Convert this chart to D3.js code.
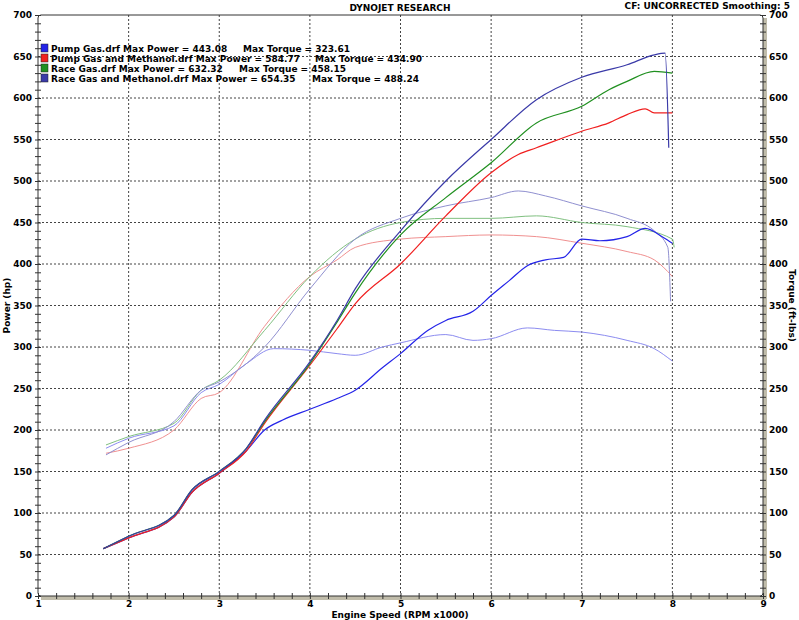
<!DOCTYPE html>
<html><head><meta charset="utf-8">
<script src="https://cdn.jsdelivr.net/npm/d3@7"></script>
<style>body{margin:0;background:#fff}text{font-family:"DejaVu Sans",Verdana,sans-serif;font-weight:bold;font-size:9px}</style>
</head><body><script>
// [rpm x1000, value]
const pumpPower = [[1.72,57],[2,70],[2.5,95],[2.7,125],[3,148],[3.3,175],[3.5,200],[3.7,212],[4,225],[4.3,238],[4.5,248],[4.8,275],[5,292],[5.3,320],[5.5,332],[5.8,343],[6,362],[6.2,380],[6.4,398],[6.6,405],[6.8,408],[7,430],[7.2,428],[7.5,433],[7.7,443],[7.9,432],[8,425]];
const pumpTorque = [[1.75,178],[2,190],[2.5,205],[2.8,245],[3,255],[3.3,280],[3.6,298],[4,296],[4.3,292],[4.5,290],[4.8,300],[5,305],[5.5,315],[5.8,308],[6,310],[6.4,323],[6.7,320],[7,318],[7.5,308],[7.8,298],[8,283]];
const methPower = [[1.72,57],[2,70],[2.5,95],[2.7,125],[3,148],[3.3,175],[3.5,208],[4,278],[4.3,322],[4.5,352],[5,400],[5.5,458],[6,510],[6.3,532],[6.5,540],[7,560],[7.3,570],[7.5,580],[7.7,587],[7.8,582],[8,582]];
const methTorque = [[1.75,172],[2,178],[2.5,200],[2.8,238],[3,245],[3.5,325],[4,385],[4.3,405],[4.5,420],[5,430],[5.5,433],[6,435],[6.5,433],[7,425],[7.5,415],[7.8,405],[8,385]];
const racePower = [[1.72,57],[2,72],[2.5,97],[2.7,128],[3,150],[3.3,178],[3.5,210],[4,280],[4.3,330],[4.5,365],[5,435],[5.5,480],[6,522],[6.5,570],[7,590],[7.3,610],[7.5,620],[7.8,632],[8,630]];
const raceTorque = [[1.75,182],[2,192],[2.5,208],[2.8,248],[3,260],[3.5,320],[4,385],[4.5,430],[5,450],[5.5,455],[6,455],[6.5,458],[7,450],[7.5,445],[8,430],[8.02,420]];
const rmPower = [[1.72,57],[2,72],[2.5,97],[2.7,128],[3,150],[3.3,178],[3.5,212],[4,282],[4.3,332],[4.5,370],[5,440],[5.5,500],[6,550],[6.5,598],[7,625],[7.5,640],[7.8,652],[7.92,654],[7.96,540]];
const rmTorque = [[1.75,170],[2,185],[2.5,210],[2.8,248],[3,258],[3.5,300],[4,370],[4.5,430],[5,455],[5.5,470],[6,480],[6.3,488],[6.6,482],[7,470],[7.5,455],[7.8,440],[7.95,420],[7.98,355]];
const legendLabels = ["Pump Gas.drf Max Power = 443.08", "Pump Gas and Methanol.drf Max Power = 584.77", "Race Gas.drf Max Power = 632.32", "Race Gas and Methanol.drf Max Power = 654.35"];
const torqueLabels = ["Max Torque = 323.61", "Max Torque = 434.90", "Max Torque = 458.15", "Max Torque = 488.24"];
const colors = ["#2424e8", "#f02020", "#209020", "#3a3aa8"];
const lightColors = ["#8c8cf0", "#f09090", "#80c080", "#9090d0"];

const W = 799, H = 620, L = 38, R = 763, T = 15, B = 596;
const svg = d3.select("body").append("svg").attr("width", W).attr("height", H);
const x = d3.scaleLinear([1, 9], [L, R]);
const y = d3.scaleLinear([0, 700], [B, T]);

// shadow
svg.append("rect").attr("x", L + 3).attr("y", B).attr("width", R - L).attr("height", 4).attr("fill", "#c0bcaa");
svg.append("rect").attr("x", R).attr("y", T + 3).attr("width", 4).attr("height", B - T).attr("fill", "#c0bcaa");

const grid = svg.append("g").attr("stroke", "#444").attr("stroke-dasharray", "2,2");
d3.range(2, 9).forEach(v => grid.append("line").attr("x1", x(v)).attr("x2", x(v)).attr("y1", T).attr("y2", B));
d3.range(50, 700, 50).forEach(v => grid.append("line").attr("x1", L).attr("x2", R).attr("y1", y(v)).attr("y2", y(v)));

svg.append("rect").attr("x", L).attr("y", T).attr("width", R - L).attr("height", B - T).attr("fill", "none").attr("stroke", "#333").attr("rx", 3);

const ax = svg.append("g").attr("transform", `translate(0,${B})`)
  .call(d3.axisBottom(x).tickValues(d3.range(1, 9.01, 0.2)).tickSize(3).tickFormat(d => Math.abs(d - Math.round(d)) < 1e-6 ? Math.round(d) : ""));
ax.selectAll(".tick line").attr("y1", -3);
const ayl = svg.append("g").attr("transform", `translate(${L},0)`)
  .call(d3.axisLeft(y).tickValues(d3.range(0, 701, 10)).tickSize(3).tickFormat(d => d % 50 === 0 ? d : ""));
ayl.selectAll(".tick line").attr("x1", 3);
const ayr = svg.append("g").attr("transform", `translate(${R},0)`)
  .call(d3.axisRight(y).tickValues(d3.range(0, 701, 10)).tickSize(3).tickFormat(d => d % 50 === 0 ? d : ""));
ayr.selectAll(".tick line").attr("x1", -3);
svg.selectAll(".domain").remove();
svg.selectAll(".tick text").attr("font-size", 10).attr("font-family", "Liberation Sans").attr("fill", "#000");
ax.selectAll(".tick text").attr("dy", "0.5em");
svg.selectAll(".tick line").attr("stroke", "#333");

const line = d3.line().x(d => x(d[0])).y(d => y(d[1])).curve(d3.curveMonotoneX);
[pumpTorque, methTorque, raceTorque, rmTorque].forEach((s, i) =>
  svg.append("path").attr("d", line(s)).attr("fill", "none").attr("stroke", lightColors[i]).attr("stroke-width", 1));
[pumpPower, methPower, racePower, rmPower].forEach((s, i) =>
  svg.append("path").attr("d", line(s)).attr("fill", "none").attr("stroke", colors[i]).attr("stroke-width", 1.2));

const lg = svg.append("g");
legendLabels.forEach((t, i) => {
  const yy = 52 + i * 10;
  lg.append("rect").attr("x", 41).attr("y", yy - 8).attr("width", 7).attr("height", 8).attr("fill", colors[i]).attr("stroke", "#222").attr("stroke-width", 0.5);
  lg.append("text").attr("x", 51).attr("y", yy).text(t);
  lg.append("text").attr("x", [243, 315, 239, 312][i]).attr("y", yy).text(torqueLabels[i]);
});

svg.append("text").attr("x", 400).attr("y", 11).attr("text-anchor", "middle").text("DYNOJET RESEARCH");
svg.append("text").attr("x", 790).attr("y", 9).attr("text-anchor", "end").text("CF: UNCORRECTED  Smoothing: 5");
svg.append("text").attr("x", 400).attr("y", 618).attr("text-anchor", "middle").text("Engine Speed (RPM x1000)");
svg.append("text").attr("transform", `translate(10,${(T + B) / 2}) rotate(-90)`).attr("text-anchor", "middle").text("Power (hp)");
svg.append("text").attr("transform", `translate(789,${(T + B) / 2}) rotate(90)`).attr("text-anchor", "middle").text("Torque (ft-lbs)");
</script></body></html>
